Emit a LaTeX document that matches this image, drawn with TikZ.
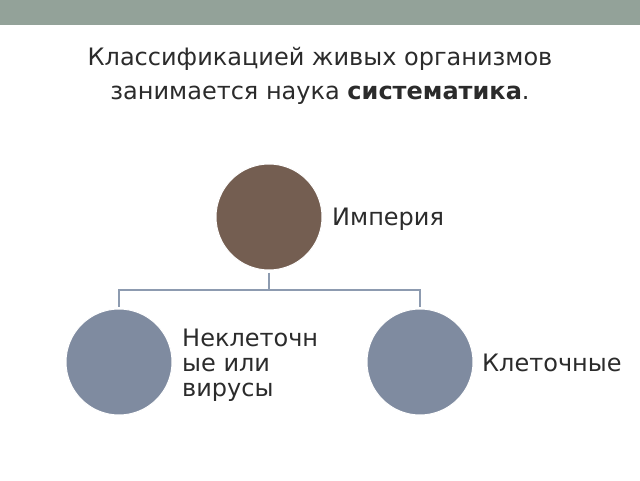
\documentclass[tikz,border=0pt]{standalone}
\usepackage{fontspec}
\setmainfont{DejaVu Sans}
\usetikzlibrary{positioning}
\definecolor{barcol}{HTML}{93A299}
\definecolor{brown}{HTML}{745E51}
\definecolor{slate}{HTML}{7F8BA0}
\definecolor{linkcol}{HTML}{8D9BB0}
\definecolor{ink}{HTML}{2B2B2B}

\begin{document}
\begin{tikzpicture}[x=1pt,y=1pt,
    ball/.style={circle,inner sep=0pt,minimum size=106pt,draw=white,line width=1pt},
    lbl/.style={text=ink,font=\fontsize{24}{25}\selectfont,anchor=west,align=left,inner sep=0pt},
    link/.style={draw=linkcol,line width=1.6pt}]
      \useasboundingbox (0,0) rectangle (640,480);
      \fill[barcol] (0,455) rectangle (640,480);
      \node[text=ink,font=\fontsize{24}{34}\selectfont,align=center] (title) at (320,404)
        {Классификацией живых организмов\\занимается наука \textbf{систематика}.};
      % circles
      \node[ball,fill=brown] (imp) at (269,263) {};
      \node[ball,fill=slate] (virus) at (119,118) {};
      \node[ball,fill=slate] (cell) at (420,118) {};
      \node[lbl] (implbl) at (332,261) {Империя};
      \node[lbl] (viruslbl) at (182,115) {Неклеточн\\ые или\\вирусы};
      \node[lbl] (celllbl) at (482,117) {Клеточные};
      % connectors
      \coordinate (fork) at (269,190);
      \draw[link,shorten <=2pt] (imp.south) -- (fork);
      \draw[link,shorten >=2pt] (fork) -| (virus.north);
      \draw[link,shorten >=2pt] (fork) -| (cell.north);
    \end{tikzpicture}
\end{document}
